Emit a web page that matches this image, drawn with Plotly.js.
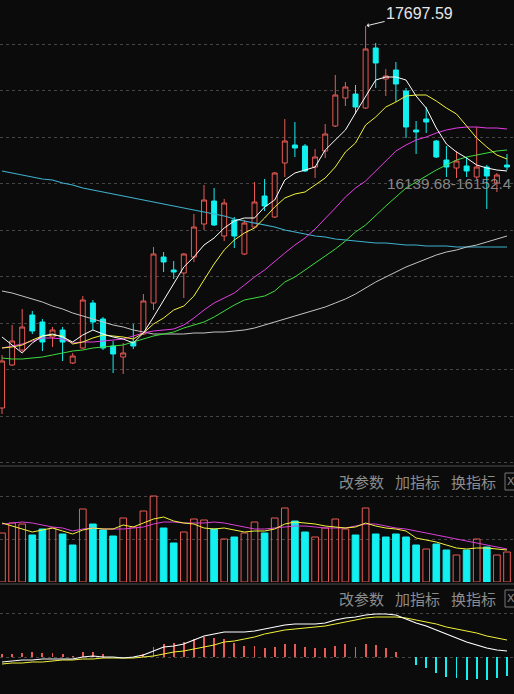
<!DOCTYPE html>
<html>
<head>
<meta charset="utf-8">
<script src="https://cdn.plot.ly/plotly-3.0.1.min.js"></script>
<style>
html,body{margin:0;padding:0;background:#0b0b0b;overflow:hidden;}
#chart{width:514px;height:694px;}
</style>
</head>
<body>
<div id="chart"></div>
<script>
// ---- candle data (index positions, price values) ----
const candleIndex = Array.from({length: 51}, (_, i) => i);
const openPrices  = [13878,14308,14458,14808,14738,14588,14658,14328,14478,14928,14768,14498,14388,14538,14618,14928,15388,15258,15228,15388,15718,15948,15598,15758,15418,15688,15998,15788,16328,16508,16498,16288,16448,16698,16978,17018,16878,17478,17168,17258,17048,16658,16768,16548,16358,16278,16298,16188,16288,16128,16308];
const highPrices  = [14408,14708,14868,14848,14768,14688,14688,14428,14998,14958,14788,14548,14528,14718,15018,15488,15438,15348,15428,15818,16108,16078,15968,15788,15758,16138,16168,16238,16768,16738,16518,16468,16718,17208,17138,17108,17697.59,17528,17268,17338,17078,16748,16888,16558,16498,16448,16388,16688,16308,16228,16418];
const lowPrices   = [13818,14298,14438,14618,14448,14488,14348,14318,14468,14658,14458,14228,14218,14468,14608,14858,15238,15168,14978,15338,15658,15698,15548,15478,15408,15678,15848,15778,16188,16388,16238,16178,16378,16688,16898,16818,16868,17078,16998,16938,16578,16418,16628,16378,16188,16178,16188,16168,15868,16038,16258];
const closePrices = [14348,14548,14688,14648,14538,14658,14538,14398,14958,14738,14478,14418,14428,14498,14948,15418,15338,15238,15418,15688,15958,15708,15928,15598,15728,15938,15898,16228,16548,16478,16248,16388,16618,17008,17088,16888,17468,17328,17198,17118,16688,16638,16738,16388,16288,16348,16248,16288,16198,16208,16288];

// ---- moving averages on price ----
const ma5   = [14588,14508,14428,14528,14598,14618,14588,14538,14608,14658,14618,14588,14568,14528,14628,14788,14958,15128,15288,15388,15508,15578,15678,15748,15778,15778,15888,15958,16158,16228,16258,16288,16458,16558,16658,16828,16988,17158,17188,17188,17158,16998,16878,16678,16518,16438,16378,16308,16278,16258,16248];
const ma10  = [14478,14488,14508,14558,14598,14608,14598,14518,14538,14578,14608,14598,14588,14568,14628,14718,14778,14858,14898,14998,15158,15318,15458,15558,15628,15678,15778,15888,15978,16018,16038,16108,16178,16288,16438,16528,16708,16788,16888,16938,16998,17008,17008,16948,16878,16818,16698,16578,16488,16408,16368];
const ma20  = [14478,14498,14518,14548,14578,14578,14568,14528,14538,14538,14548,14558,14568,14598,14628,14648,14658,14668,14708,14778,14858,14928,14978,15028,15108,15188,15258,15348,15428,15508,15578,15668,15768,15878,15988,16078,16148,16248,16358,16448,16508,16558,16588,16628,16658,16678,16688,16688,16678,16678,16668];
const ma30  = [14378,14368,14368,14378,14388,14408,14428,14448,14458,14478,14488,14498,14508,14538,14568,14598,14618,14638,14678,14708,14738,14788,14848,14908,14958,14978,14998,15048,15138,15188,15258,15328,15398,15468,15548,15638,15708,15808,15898,15988,16078,16138,16198,16258,16308,16358,16388,16408,16428,16448,16458];
const ma120 = [15048,15028,14998,14968,14938,14898,14868,14828,14798,14768,14738,14708,14688,14658,14638,14618,14618,14618,14618,14628,14628,14638,14638,14648,14658,14678,14708,14738,14768,14798,14828,14858,14888,14928,14968,15018,15078,15138,15188,15238,15288,15328,15368,15408,15438,15458,15488,15508,15538,15568,15598];
const ma250 = [16248,16228,16208,16188,16168,16158,16128,16108,16078,16058,16038,16018,15998,15978,15958,15938,15918,15898,15878,15858,15838,15818,15798,15768,15748,15728,15708,15688,15658,15638,15618,15598,15588,15568,15558,15548,15538,15528,15528,15518,15508,15508,15498,15498,15498,15488,15488,15488,15488,15488,15488];

// ---- volume ----
const volume = [490,590,580,470,530,540,480,370,730,580,520,460,640,550,710,860,540,390,500,630,620,530,430,450,490,600,490,640,740,610,500,450,540,630,530,470,740,480,450,480,450,370,330,380,320,270,320,430,350,270,300];
const volMa5  = [590,560,530,500,520,540,510,480,520,540,530,530,570,550,590,630,650,610,590,580,540,530,540,520,500,510,510,530,580,600,590,580,560,550,540,550,590,560,540,530,510,440,420,400,370,340,330,340,340,330,320];
const volMa10 = [580,590,600,590,570,550,540,510,530,540,530,530,530,540,550,580,600,600,590,590,590,600,590,570,550,530,530,540,550,560,560,550,540,540,540,560,580,580,560,540,530,510,490,470,450,430,410,390,370,350,330];

// ---- MACD ----
const dif  = [-25,-20,-15,-15,-10,-10,-10,-10,0,5,0,0,-5,0,10,30,50,55,65,85,105,115,125,125,125,130,140,150,160,165,165,165,170,185,195,200,210,215,215,210,190,170,155,135,115,95,75,60,45,35,30];
const dea  = [-35,-30,-30,-25,-25,-20,-15,-15,-10,-10,-5,-5,-5,-5,0,5,15,25,30,40,50,60,75,80,90,100,115,125,135,140,145,150,155,165,175,185,195,200,200,200,195,185,175,165,150,140,130,120,105,95,85];
const macdHist = [15,15,20,25,20,20,15,5,25,25,15,2,2,-2,15,50,65,70,75,90,100,95,90,70,55,55,45,50,65,65,50,45,45,55,65,50,65,60,45,25,2,-40,-55,-80,-100,-105,-115,-110,-115,-105,-95];

// ---- labels ----
const peakLabel = '17697.59';
const rangeLabel = '16139.68-16152.4';
const toolLabels = ['改参数', '加指标', '换指标'];

// ---- styles ----
const RED = '#e85a55', CYAN = '#12f0f0', BG = '#0b0b0b';
const W = 514, H = 694;
const px = v => v / W, py = v => 1 - v / H;

const volUp = closePrices.map((c, i) => i === 0 || c >= closePrices[i - 1]);

const traces = [
  {
    type: 'candlestick', x: candleIndex,
    open: openPrices, high: highPrices, low: lowPrices, close: closePrices,
    increasing: {line: {color: RED, width: 1}, fillcolor: BG},
    decreasing: {line: {color: CYAN, width: 1}, fillcolor: CYAN},
    whiskerwidth: 0, xaxis: 'x', yaxis: 'y', hoverinfo: 'skip'
  },
  {type: 'scatter', mode: 'lines', x: candleIndex, y: ma250, line: {color: '#3fb0cc', width: 1.2}, yaxis: 'y'},
  {type: 'scatter', mode: 'lines', x: candleIndex, y: ma120, line: {color: '#c4c4c4', width: 1}, yaxis: 'y'},
  {type: 'scatter', mode: 'lines', x: candleIndex, y: ma30, line: {color: '#3fdc3f', width: 1}, yaxis: 'y'},
  {type: 'scatter', mode: 'lines', x: candleIndex, y: ma20, line: {color: '#e63de6', width: 1}, yaxis: 'y'},
  {type: 'scatter', mode: 'lines', x: candleIndex, y: ma10, line: {color: '#f2f23c', width: 1}, yaxis: 'y'},
  {type: 'scatter', mode: 'lines', x: candleIndex, y: ma5, line: {color: '#ffffff', width: 1}, yaxis: 'y'},
  {
    type: 'bar', x: candleIndex, y: volume, width: 0.66, yaxis: 'y2',
    marker: {
      color: volUp.map(u => u ? 'rgba(0,0,0,0)' : CYAN),
      line: {color: volUp.map(u => u ? RED : CYAN), width: 1}
    }
  },
  {type: 'scatter', mode: 'lines', x: candleIndex, y: volMa10, line: {color: '#d940d9', width: 1}, yaxis: 'y2'},
  {type: 'scatter', mode: 'lines', x: candleIndex, y: volMa5, line: {color: '#f2f23c', width: 1}, yaxis: 'y2'},
  {
    type: 'bar', x: candleIndex, y: macdHist, width: 0.18, yaxis: 'y3',
    marker: {color: macdHist.map(v => v >= 0 ? RED : CYAN), line: {width: 0}}
  },
  {type: 'scatter', mode: 'lines', x: candleIndex, y: dea, line: {color: '#f2f23c', width: 1}, yaxis: 'y3'},
  {type: 'scatter', mode: 'lines', x: candleIndex, y: dif, line: {color: '#ffffff', width: 1.2}, yaxis: 'y3'}
];

const hiddenAxis = {zeroline: false, showticklabels: false, showline: false, ticks: '', fixedrange: true};
const gridStyle = {showgrid: true, gridcolor: '#454545', griddash: 'dot', gridwidth: 1};

const annotations = [
  {
    x: 36, y: highPrices[36], xref: 'x', yref: 'y', text: peakLabel,
    showarrow: true, ax: 54, ay: -13, arrowcolor: '#e6e6e6', arrowwidth: 1,
    arrowhead: 1, arrowsize: 0.8, standoff: 1,
    font: {family: 'Liberation Sans, Arial, sans-serif', size: 16, color: '#e6e6e6'}
  },
  {
    x: px(385), y: py(183), xref: 'paper', yref: 'paper', xanchor: 'left', yanchor: 'middle',
    text: rangeLabel, showarrow: false,
    font: {family: 'Liberation Sans, Arial, sans-serif', size: 15.3, color: 'rgba(150,150,150,0.9)'}
  }
];
const toolX = [337, 393, 449];
const shapes = [
  {type: 'line', xref: 'paper', yref: 'paper', x0: 0, x1: 1, y0: py(466), y1: py(466), line: {color: '#2c2c2c', width: 2}},
  {type: 'line', xref: 'paper', yref: 'paper', x0: 0, x1: 1, y0: py(584), y1: py(584), line: {color: '#2c2c2c', width: 2}}
];
[481.5, 598.5].forEach(cy => {
  toolLabels.forEach((t, k) => {
    annotations.push({
      x: px(toolX[k]), y: py(cy), xref: 'paper', yref: 'paper', xanchor: 'left', yanchor: 'middle',
      text: t, showarrow: false,
      font: {family: 'Noto Sans CJK SC, sans-serif', size: 15, color: '#8c8c8c'}
    });
  });
  shapes.push({type: 'rect', xref: 'paper', yref: 'paper', x0: px(505), x1: px(522), y0: py(cy - 8.5), y1: py(cy + 8.5),
    line: {color: '#777777', width: 1}, fillcolor: 'rgba(0,0,0,0)'});
  annotations.push({x: px(511), y: py(cy), xref: 'paper', yref: 'paper', xanchor: 'center', yanchor: 'middle',
    text: 'X', showarrow: false, font: {family: 'DejaVu Sans, sans-serif', size: 11, color: '#8c8c8c'}});
});

const layout = {
  width: W, height: H,
  margin: {l: 0, r: 0, t: 0, b: 0},
  paper_bgcolor: BG, plot_bgcolor: BG,
  showlegend: false, bargap: 0,
  xaxis: Object.assign({range: [-0.198, 50.693], showgrid: false, rangeslider: {visible: false}}, hiddenAxis),
  yaxis: Object.assign({domain: [py(465), 1], range: [13308, 17958], tick0: 13798, dtick: 465}, hiddenAxis, gridStyle),
  yaxis2: Object.assign({domain: [py(582), py(466)], range: [0, 1160], tickvals: [430, 860], anchor: 'x'}, hiddenAxis, gridStyle),
  yaxis3: Object.assign({domain: [0, py(588)], range: [-185, 345], tickvals: [0, 220], anchor: 'x'}, hiddenAxis, gridStyle),
  shapes: shapes,
  annotations: annotations
};

Plotly.newPlot('chart', traces, layout, {staticPlot: true, displayModeBar: false});
</script>
</body>
</html>
